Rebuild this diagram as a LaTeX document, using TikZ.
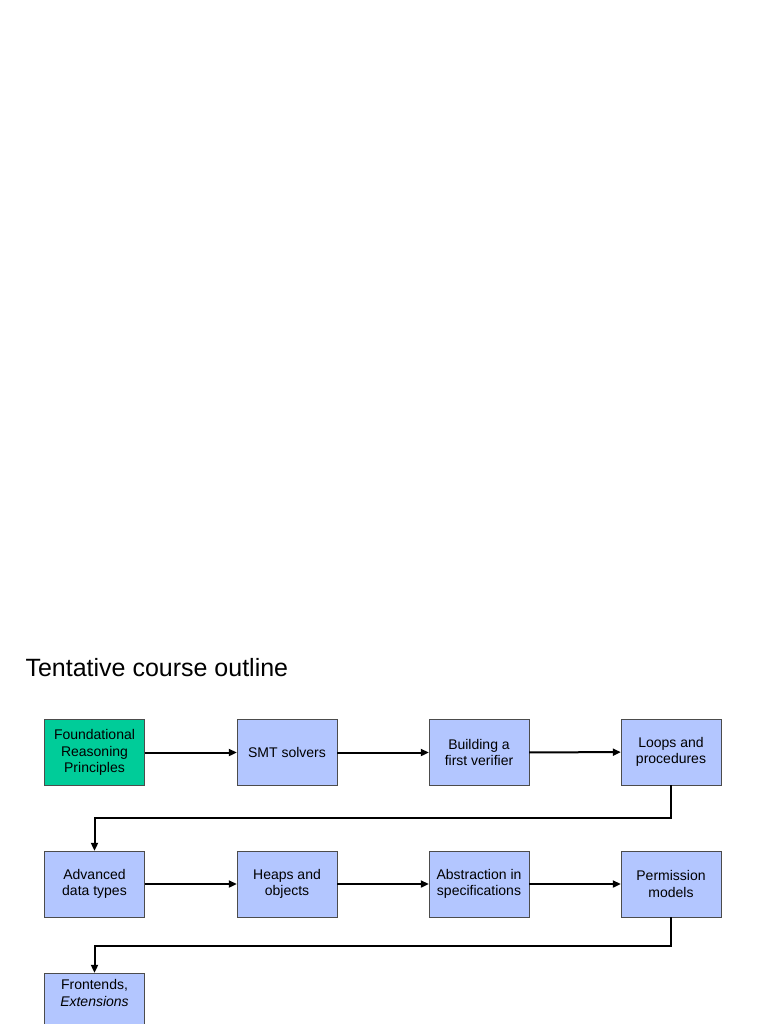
\documentclass[tikz,border=0pt]{standalone}
\usepackage{fontspec}
\setmainfont{Liberation Sans}
\usetikzlibrary{arrows.meta}
\definecolor{bx}{HTML}{B3C6FF}
\definecolor{gn}{HTML}{00CC99}
\begin{document}
\begin{tikzpicture}[x=1pt,y=-1pt,
  bxs/.style={draw=black!70,fill=bx,minimum width=100pt,minimum height=66pt,align=center,font=\fontsize{14}{16.5}\selectfont,inner sep=1pt},
  arr/.style={-{Triangle[length=8pt,width=7pt]},line width=2pt}]
\useasboundingbox (0,0) rectangle (768,1024);
\clip (0,0) rectangle (768,1024);
\node[anchor=base west,font=\fontsize{25}{28}\selectfont] (t) at (22,676) {Tentative course outline};
\node[bxs,fill=gn] (a) at (94.5,752.5) {Foundational\\Reasoning\\Principles};
\node[bxs] (b) at (287,752.5) {SMT solvers};
\node[bxs] (c) at (479,752.5) {Building a\\first verifier};
\node[bxs] (d) at (671,752) {Loops and\\procedures};
\node[bxs] (e) at (94.5,884) {Advanced\\data types};
\node[bxs] (f) at (287,884) {Heaps and\\objects};
\node[bxs] (g) at (479,884) {Abstraction in\\specifications};
\node[bxs] (h) at (671,884) {Permission\\models};
\node[bxs,minimum height=70pt] (i) at (94.5,1008) {Frontends,\\\textit{Extensions}\\[14pt]};
\draw[arr] (a) -- (b);
\draw[arr] (b) -- (c);
\draw[arr] (c) -- (d);
\draw[arr] (e) -- (f);
\draw[arr] (f) -- (g);
\draw[arr] (g) -- (h);
\draw[arr] (d.south) |- (94.5,818) -- (e.north);
\draw[arr] (h.south) |- (94.5,946) -- (i.north);
\end{tikzpicture}
\end{document}
